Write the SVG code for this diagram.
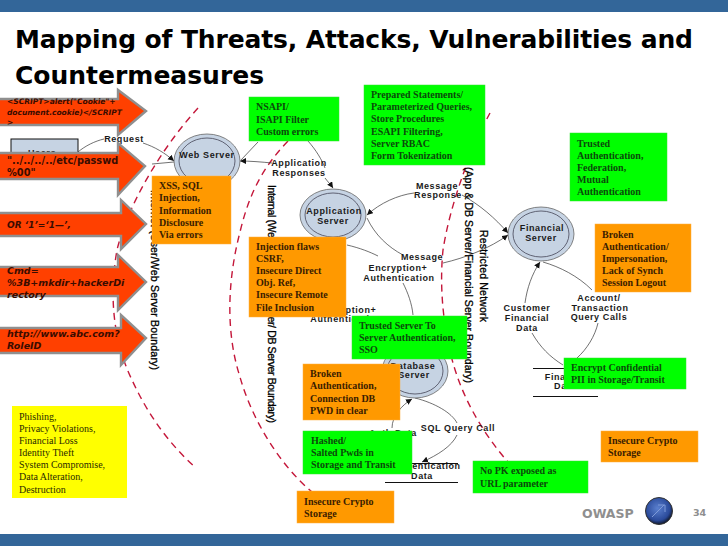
<svg xmlns="http://www.w3.org/2000/svg" width="728" height="546" viewBox="0 0 728 546">
<defs>
<marker id="ah" markerWidth="7" markerHeight="7" refX="6" refY="3" orient="auto" markerUnits="userSpaceOnUse"><path d="M0,0 L6,3 L0,6 Z" fill="#111"/></marker>
<radialGradient id="glob" cx="45%" cy="40%" r="60%"><stop offset="0" stop-color="#5b80cf"/><stop offset="0.75" stop-color="#2a4a9a"/><stop offset="1" stop-color="#10182c"/></radialGradient>
</defs>
<style>
.t{font-family:"DejaVu Sans",sans-serif;font-weight:700;font-size:25px;fill:#000}
.b{font-family:"Liberation Serif",serif;font-weight:700;font-size:10px}
.bg{fill:#00ff00;stroke:#33e033;stroke-width:.5}
.bo{fill:#ff9900;stroke:#ffae40;stroke-width:.5}
.gt{fill:#0b4a0b}
.ot{fill:#3a2000}
.ar{fill:#ff4000;stroke:#8f8f8f;stroke-width:2.4}
.at{font-family:"DejaVu Sans",sans-serif;font-weight:700;font-style:italic;fill:#3a0c00}
.l{font-family:"Liberation Sans",sans-serif;font-weight:700;font-size:9px;letter-spacing:.6px;fill:#1a1a1a;text-anchor:middle}
.r{font-family:"Liberation Sans",sans-serif;font-size:10.5px;font-weight:400;stroke:#000;stroke-width:.3px;fill:#000}
.c{fill:none;stroke:#333;stroke-width:.7}
.cm{marker-end:url(#ah)}
.d{fill:none;stroke:#c4173a;stroke-width:1.4;stroke-dasharray:7 5}
.o{fill:#c6d3e3;stroke:#666;stroke-width:.8}
.i{fill:none;stroke:#445;stroke-width:.8}
</style>
<rect id="top-band" x="0" y="0" width="728" height="12" fill="#336699"/>
<rect id="bottom-band" x="0" y="534" width="728" height="12" fill="#336699"/>
<text class="t"><tspan x="15" y="48" textLength="678">Mapping of Threats, Attacks, Vulnerabilities and</tspan><tspan x="15" y="84">Countermeasures</tspan></text>

<g id="boundaries">
<path class="d" d="M198,108 C160,150 128,205 117,250 C108,300 115,345 132,380 C148,415 170,445 196,468"/>
<path class="d" d="M288,141 C265,165 250,190 240,232 C225,290 228,340 240,377 C252,420 280,465 312,492"/>
<path class="d" d="M490,113 C470,150 450,205 443,250 C439,290 444,330 453,363 C462,395 480,430 508,462"/>
</g>

<g id="boundary-labels">
<text class="r" transform="translate(151,190) rotate(90)" textLength="180">Internet (User/Web Server Boundary)</text>
<text class="r" transform="translate(268,185) rotate(90)" textLength="238">Internal (Web Server/App Server/ DB Server Boundary)</text>
<text class="r" transform="translate(465,167) rotate(90)" textLength="216">(App &amp; DB Server/Financial Server Boundary)</text>
<text class="r" transform="translate(480,230) rotate(90)" textLength="92">Restricted Network</text>
</g>

<g id="connectors">
<path class="c" d="M78,152 C85,146 95,141 104,139"/>
<path class="c cm" d="M143,143 C155,147 165,153 174,161"/>
<path class="c" d="M152,164 L174,162"/>
<path class="c cm" d="M272,163 C262,162 250,161 240,161"/>
<path class="c" d="M258,142 L241,160"/>
<path class="c cm" d="M308,141 C316,150 322,160 325,168 M325,178 C328,182 331,185 333,188"/>
<path class="c cm" d="M414,193 C398,195 380,203 367,215"/>
<path class="c cm" d="M462,195 C480,205 495,218 508,233"/>
<path class="c" d="M367,218 C375,235 388,247 403,255"/>
<path class="c cm" d="M443,263 C465,258 490,248 508,235"/>
<path class="c" d="M347,245 C360,248 370,252 378,256"/>
<path class="c" d="M403,283 C408,293 412,304 413,315"/>
<path class="c cm" d="M525,303 C527,288 532,274 540,262"/>
<path class="c" d="M532,333 C540,347 550,357 563,365"/>
<path class="c" d="M592,290 C578,276 560,267 543,262"/>
<path class="c" d="M598,323 C595,336 587,349 577,358"/>
<path class="c cm" d="M392,428 C392,416 402,405 412,399"/>
<path class="c" d="M415,398 C435,403 452,413 457,423"/>
<path class="c cm" d="M457,435 C452,446 438,455 422,462"/>
</g>

<g id="users"><rect x="11" y="139" width="67" height="24" fill="#c6d3e3" stroke="#111"/><text class="l" x="42" y="156">Users</text></g>

<g id="web-server"><ellipse class="o" cx="207" cy="161" rx="33" ry="27"/><ellipse class="i" cx="207" cy="161" rx="28" ry="23"/><text class="l" x="207" y="158">Web Server</text></g>
<g id="application-server"><ellipse class="o" cx="333" cy="215" rx="33" ry="26"/><ellipse class="i" cx="333" cy="215" rx="28" ry="22"/><text class="l"><tspan x="334" y="214">Application</tspan><tspan x="333" y="223.500">Server</tspan></text></g>
<g id="financial-server"><ellipse class="o" cx="541" cy="234" rx="33" ry="27"/><ellipse class="i" cx="541" cy="234" rx="28" ry="23"/><text class="l"><tspan x="542" y="231">Financial</tspan><tspan x="541" y="241">Server</tspan></text></g>
<g id="database-server"><ellipse class="o" cx="415" cy="371" rx="33" ry="27"/><ellipse class="i" cx="415" cy="371" rx="28" ry="23"/><text class="l"><tspan x="413" y="369">Database</tspan><tspan x="414" y="378">Server</tspan></text></g>

<g id="data-stores">
<path stroke="#111" stroke-width="1" d="M533,368.500H598M533,396.500H598M385,463.500H458M385,482.500H458"/>
<text class="l"><tspan x="567" y="380">Financial</tspan><tspan x="565" y="389">Data</tspan></text>
<text class="l"><tspan x="425" y="469">Authentication</tspan><tspan x="422" y="479">Data</tspan></text>
</g>

<g id="connector-labels">
<text class="l" x="124" y="142">Request</text>
<text class="l"><tspan x="299" y="166">Application</tspan><tspan x="299" y="176">Responses</tspan></text>
<text class="l"><tspan x="437" y="189">Message</tspan><tspan x="438" y="198">Response</tspan></text>
<text class="l" x="422" y="260">Message</text>
<text class="l"><tspan x="398" y="271">Encryption+</tspan><tspan x="399" y="281">Authentication</tspan></text>
<text class="l"><tspan x="347" y="313">Encryption+</tspan><tspan x="346" y="322">Authentication</tspan></text>
<text class="l"><tspan x="527" y="311">Customer</tspan><tspan x="527" y="321">Financial</tspan><tspan x="527" y="331">Data</tspan></text>
<text class="l"><tspan x="599" y="301">Account/</tspan><tspan x="600" y="311">Transaction</tspan><tspan x="599" y="320">Query Calls</tspan></text>
<text class="l" x="393" y="436">Auth Data</text>
<text class="l" x="458" y="431">SQL Query Call</text>
</g>

<g id="attack-script"><path class="ar" d="M-3,99H118V90L146,111L118,135V125H-3Z"/><text class="at" font-size="7.500"><tspan x="7" y="104">&lt;SCRIPT&gt;alert("Cookie"+</tspan><tspan x="7" y="115">document.cookie)&lt;/SCRIPT</tspan><tspan x="7" y="125">&gt;</tspan></text></g>
<g id="attack-path"><path class="ar" d="M-3,153H118V143L145,166L118,195V179H-3Z"/><text class="at" font-size="9.800" style="font-style:normal"><tspan x="7" y="164">"../../../../etc/passwd</tspan><tspan x="7" y="176">%00"</tspan></text></g>
<g id="attack-sql"><path class="ar" d="M-3,213H121V200L146,224L121,249V236H-3Z"/><text class="at" font-size="9" x="7" y="228">OR ‘1’=‘1—’,</text></g>
<g id="attack-cmd"><path class="ar" d="M-3,267H118V255L146,282L118,310V296H-3Z"/><text class="at" font-size="9.500"><tspan x="7" y="274">Cmd=</tspan><tspan x="7" y="286">%3B+mkdir+hackerDi</tspan><tspan x="7" y="298">rectory</tspan></text></g>
<g id="attack-url"><path class="ar" d="M-3,328H121V315L146,338L121,365V353H-3Z"/><text class="at" font-size="9.500"><tspan x="7" y="337">http://www.abc.com?</tspan><tspan x="7" y="349">RoleID</tspan></text></g>

<g id="box-nsapi"><rect class="bg" x="249" y="97" width="90" height="44"/><text class="b gt"><tspan x="256" y="110">NSAPI/</tspan><tspan x="256" y="123">ISAPI Filter</tspan><tspan x="256" y="135">Custom errors</tspan></text></g>
<g id="box-prepared"><rect class="bg" x="364" y="85" width="121" height="80"/><text class="b gt"><tspan x="371" y="98">Prepared Statements/</tspan><tspan x="371" y="110">Parameterized Queries,</tspan><tspan x="371" y="122">Store  Procedures</tspan><tspan x="371" y="135">ESAPI Filtering,</tspan><tspan x="371" y="147">Server RBAC</tspan><tspan x="371" y="159">Form Tokenization</tspan></text></g>
<g id="box-xss"><rect class="bo" x="152" y="176" width="79" height="68"/><text class="b ot"><tspan x="159" y="189">XSS, SQL</tspan><tspan x="159" y="201">Injection,</tspan><tspan x="159" y="214">Information</tspan><tspan x="159" y="226">Disclosure</tspan><tspan x="159" y="238">Via errors</tspan></text></g>
<g id="box-injection"><rect class="bo" x="249" y="237" width="97" height="80"/><text class="b ot"><tspan x="256" y="250">Injection flaws</tspan><tspan x="256" y="262">CSRF,</tspan><tspan x="256" y="274">Insecure Direct</tspan><tspan x="256" y="286">Obj. Ref,</tspan><tspan x="256" y="298">Insecure Remote</tspan><tspan x="256" y="311">File Inclusion</tspan></text></g>
<g id="box-trusted-server"><rect class="bg" x="352" y="316" width="115" height="43"/><text class="b gt"><tspan x="359" y="329">Trusted  Server To</tspan><tspan x="359" y="341">Server Authentication,</tspan><tspan x="359" y="353">SSO</tspan></text></g>
<g id="box-broken-db"><rect class="bo" x="303" y="364" width="97" height="56"/><text class="b ot"><tspan x="310" y="377">Broken</tspan><tspan x="310" y="389">Authentication,</tspan><tspan x="310" y="402">Connection DB</tspan><tspan x="310" y="414">PWD in clear</tspan></text></g>
<g id="box-hashed"><rect class="bg" x="303" y="431" width="109" height="43"/><text class="b gt"><tspan x="311" y="444">Hashed/</tspan><tspan x="311" y="456">Salted  Pwds in</tspan><tspan x="311" y="468">Storage and Transit</tspan></text></g>
<g id="box-crypto-bottom"><rect class="bo" x="297" y="491" width="97" height="32"/><text class="b ot"><tspan x="304" y="505">Insecure Crypto</tspan><tspan x="304" y="517">Storage</tspan></text></g>
<g id="box-pk"><rect class="bg" x="473" y="461" width="115" height="32"/><text class="b gt"><tspan x="480" y="474">No PK exposed as</tspan><tspan x="480" y="487">URL parameter</tspan></text></g>
<g id="box-crypto-right"><rect class="bo" x="601" y="431" width="97" height="31"/><text class="b ot"><tspan x="608" y="444">Insecure Crypto</tspan><tspan x="608" y="456">Storage</tspan></text></g>
<g id="box-trusted-auth"><rect class="bg" x="570" y="133" width="97" height="68"/><text class="b gt"><tspan x="577" y="147">Trusted</tspan><tspan x="577" y="159">Authentication,</tspan><tspan x="577" y="171">Federation,</tspan><tspan x="577" y="183">Mutual</tspan><tspan x="577" y="195">Authentication</tspan></text></g>
<g id="box-broken-auth"><rect class="bo" x="595" y="224" width="96" height="68"/><text class="b ot"><tspan x="602" y="238">Broken</tspan><tspan x="602" y="250">Authentication/</tspan><tspan x="602" y="262">Impersonation,</tspan><tspan x="602" y="274">Lack of Synch</tspan><tspan x="602" y="286">Session Logout</tspan></text></g>
<g id="box-encrypt"><rect class="bg" x="564" y="358" width="122" height="31"/><text class="b gt"><tspan x="571" y="371">Encrypt Confidential</tspan><tspan x="571" y="383">PII  in Storage/Transit</tspan></text></g>
<g id="box-impact"><rect x="12" y="406" width="115" height="92" fill="#ffff00"/><text font-family="Liberation Serif, serif" font-size="10" fill="#2a2a00"><tspan x="19" y="420">Phishing,</tspan><tspan x="19" y="432">Privacy Violations,</tspan><tspan x="19" y="444">Financial Loss</tspan><tspan x="19" y="456">Identity Theft</tspan><tspan x="19" y="468">System Compromise,</tspan><tspan x="19" y="480">Data Alteration,</tspan><tspan x="19" y="493">Destruction</tspan></text></g>

<g id="footer">
<text x="582" y="518" font-family="DejaVu Sans, sans-serif" font-weight="700" font-size="12.500" fill="#8f8f8f">OWASP</text>
<circle cx="659" cy="511" r="13.500" fill="url(#glob)" stroke="#333" stroke-width="1"/>
<path d="M652,517 L664,505 M658,505 H665 V512" fill="none" stroke="#7f9bd8" stroke-width="1"/>
<text x="693" y="516" font-family="DejaVu Sans, sans-serif" font-weight="700" font-size="9.500" fill="#8f8f8f">34</text>
</g>
</svg>
